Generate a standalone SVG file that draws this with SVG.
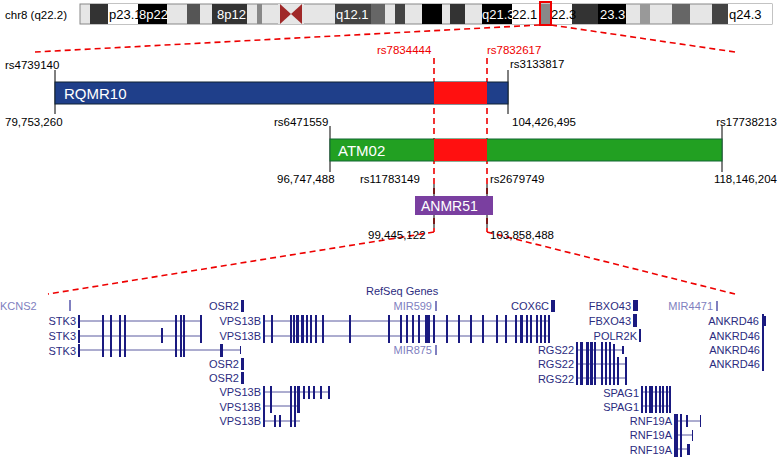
<svg xmlns="http://www.w3.org/2000/svg" width="778" height="457" viewBox="0 0 778 457">
<style>
text{font-family:"Liberation Sans",Arial,sans-serif}
.t{font-size:11.5px;fill:#000}
.r{font-size:11.5px;fill:#e00}
.g{font-size:11px;fill:#2b2b80}
.gl{font-size:11px;fill:#8080c0}
.bl{fill:#fff}
.cb{font-size:13px}
.dash{stroke:#e00;stroke-width:1.6;stroke-dasharray:6,4;fill:none}
.tk{stroke:#000;stroke-width:1}
.in{stroke:#5a5aa0;stroke-width:1}
.ex{fill:#1a1a80}
</style>
<g id="chrom">
<text class="t" x="5" y="19" font-size="12">chr8 (q22.2)</text>
<rect x="80" y="4" width="692" height="20" fill="#e6e6e6" stroke="#888"/>
<rect x="90" y="4" width="18" height="20" fill="#333"/>
<rect x="108" y="4" width="30" height="20" fill="#fff"/>
<rect x="138" y="4" width="29" height="20" fill="#000"/>
<rect x="187" y="4" width="13" height="20" fill="#555"/>
<rect x="212" y="4" width="35" height="20" fill="#333"/>
<rect x="257" y="4" width="5" height="20" fill="#888"/>
<rect x="278" y="4" width="26" height="20" fill="#e6e6e6"/>
<polygon points="280,4 291,14 280,24" fill="#a02828"/>
<polygon points="302,4 291,14 302,24" fill="#a02828"/>
<rect x="335" y="4" width="36" height="20" fill="#444"/>
<rect x="371" y="4" width="14" height="20" fill="#666"/>
<rect x="395" y="4" width="10" height="20" fill="#444"/>
<rect x="422" y="4" width="20" height="20" fill="#000"/>
<rect x="450" y="4" width="15" height="20" fill="#333"/>
<rect x="482" y="4" width="30" height="20" fill="#000"/>
<rect x="512" y="4" width="28" height="20" fill="#fff"/>
<rect x="540" y="4" width="10" height="20" fill="#888"/>
<rect x="550" y="4" width="22" height="20" fill="#fff"/>
<rect x="572" y="4" width="26" height="20" fill="#333"/>
<rect x="598" y="4" width="28" height="20" fill="#000"/>
<rect x="640" y="4" width="10" height="20" fill="#999"/>
<rect x="672" y="4" width="18" height="20" fill="#666"/>
<rect x="712" y="4" width="16" height="20" fill="#444"/>
<rect x="728" y="4" width="44" height="20" fill="#fff"/>
<text class="cb" x="109" y="19" fill="#000">p23.1</text>
<text class="cb" x="139" y="19" fill="#fff">8p22</text>
<text class="cb" x="217" y="19" fill="#fff">8p12</text>
<text class="cb" x="336" y="19" fill="#fff">q12.1</text>
<text class="cb" x="482" y="19" fill="#fff">q21.3</text>
<text class="cb" x="512" y="19" fill="#000">22.1</text>
<text class="cb" x="551" y="19" fill="#000">22.3</text>
<text class="cb" x="600" y="19" fill="#fff">23.3</text>
<text class="cb" x="729" y="19" fill="#000">q24.3</text>
<rect x="540" y="2" width="11" height="23" fill="none" stroke="#e00" stroke-width="2"/>
</g>
<g id="connectors">
<line class="dash" x1="540" y1="25" x2="35" y2="52"/>
<line class="dash" x1="551" y1="25" x2="735" y2="52"/>
<line class="dash" x1="434" y1="58" x2="434" y2="232"/>
<line class="dash" x1="487" y1="58" x2="487" y2="232"/>
<line class="dash" x1="434" y1="232" x2="48" y2="294"/>
<line class="dash" x1="487" y1="232" x2="735" y2="294"/>
</g>
<g id="RQMR10">
<line class="tk" x1="55" y1="70" x2="55" y2="114"/>
<line class="tk" x1="508" y1="70" x2="508" y2="114"/>
<rect x="55" y="82" width="453" height="22" fill="#1f3f8a" stroke="#123"/>
<rect x="434" y="82" width="53" height="22" fill="#ff1010"/>
<text class="bl" x="64" y="99" font-size="15">RQMR10</text>
<text class="t" x="5" y="69">rs4739140</text>
<text class="t" x="5" y="126">79,753,260</text>
<text class="t" x="510" y="68">rs3133817</text>
<text class="t" x="512" y="126">104,426,495</text>
<text class="r" x="377" y="54">rs7834444</text>
<text class="r" x="487" y="54">rs7832617</text>
</g>
<g id="ATM02">
<line class="tk" x1="330" y1="126" x2="330" y2="172"/>
<line class="tk" x1="722" y1="126" x2="722" y2="172"/>
<rect x="330" y="139" width="392" height="22" fill="#22a022" stroke="#163"/>
<rect x="434" y="139" width="53" height="22" fill="#ff1010"/>
<text class="bl" x="338" y="156" font-size="15">ATM02</text>
<text class="t" x="274" y="126">rs6471559</text>
<text class="t" x="277" y="183">96,747,488</text>
<text class="t" x="777" y="126" text-anchor="end" font-size="10.5">rs17738213</text>
<text class="t" x="777" y="183" text-anchor="end" font-size="10.5">118,146,204</text>
</g>
<g id="ANMR51">
<line class="tk" x1="434" y1="184" x2="434" y2="228"/>
<line class="tk" x1="487" y1="184" x2="487" y2="228"/>
<rect x="415" y="196" width="78" height="19" fill="#7a3fa0"/>
<text class="bl" x="421" y="211" font-size="14">ANMR51</text>
<text class="t" x="360" y="183">rs11783149</text>
<text class="t" x="490" y="183">rs2679749</text>
<text class="t" x="368" y="239">99,445,122</text>
<text class="t" x="490" y="239">103,858,488</text>
</g>
<g id="genes">
<text class="g" x="366" y="295">RefSeq Genes</text>
<text class="gl" x="0" y="310">KCNS2</text><rect x="69" y="300" width="2" height="11" fill="#8080c0"/>
<text class="g" x="76" y="325" text-anchor="end">STK3</text><text class="g" x="76" y="340" text-anchor="end">STK3</text><text class="g" x="76" y="355" text-anchor="end">STK3</text>
<line class="in" x1="79" y1="321" x2="201" y2="321"/><line class="in" x1="79" y1="336" x2="201" y2="336"/><line class="in" x1="79" y1="350" x2="240" y2="350"/>
<g class="ex">
<rect x="78" y="315" width="2" height="13"/><rect x="78" y="330" width="2" height="13"/><rect x="78" y="344" width="2" height="13"/>
<rect x="102" y="315" width="2" height="42"/><rect x="110" y="315" width="2" height="42"/><rect x="119" y="315" width="2" height="42"/><rect x="124" y="315" width="2" height="42"/>
<rect x="175" y="315" width="2" height="42"/><rect x="180" y="315" width="2" height="42"/><rect x="183" y="315" width="2" height="42"/><rect x="161" y="328" width="2" height="15"/>
<rect x="200" y="315" width="2" height="28"/><rect x="220" y="344" width="3" height="13"/><rect x="240" y="346" width="1" height="8"/>
</g>
<text class="g" x="239" y="310" text-anchor="end">OSR2</text><rect x="241" y="300" width="3" height="12" class="ex"/>
<text class="g" x="239" y="368" text-anchor="end">OSR2</text><rect x="241" y="358" width="3" height="12" class="ex"/>
<text class="g" x="239" y="382" text-anchor="end">OSR2</text><rect x="241" y="372" width="3" height="12" class="ex"/>
<text class="g" x="261" y="325" text-anchor="end">VPS13B</text><text class="g" x="261" y="340" text-anchor="end">VPS13B</text>
<line class="in" x1="264" y1="321" x2="550" y2="321"/><line class="in" x1="264" y1="336" x2="550" y2="336"/>
<g class="ex">
<rect x="263" y="315" width="2" height="28"/><rect x="271" y="315" width="2" height="28"/>
<rect x="290" y="315" width="2" height="28"/><rect x="293" y="315" width="2" height="28"/><rect x="296" y="315" width="3" height="28"/><rect x="301" y="315" width="3" height="28"/><rect x="306" y="315" width="2" height="28"/><rect x="310" y="315" width="2" height="28"/><rect x="315" y="315" width="2" height="28"/>
<rect x="322" y="315" width="2" height="28"/><rect x="349" y="315" width="2" height="28"/><rect x="388" y="315" width="2" height="28"/>
<rect x="400" y="315" width="2" height="28"/><rect x="406" y="315" width="2" height="28"/><rect x="412" y="315" width="2" height="28"/><rect x="418" y="315" width="2" height="28"/><rect x="425" y="315" width="5" height="28"/><rect x="433" y="315" width="2" height="28"/><rect x="446" y="315" width="2" height="28"/><rect x="458" y="315" width="2" height="28"/><rect x="470" y="315" width="2" height="28"/><rect x="482" y="315" width="2" height="28"/><rect x="496" y="315" width="2" height="28"/><rect x="505" y="315" width="2" height="28"/>
<rect x="515" y="315" width="2" height="28"/><rect x="520" y="315" width="3" height="28"/><rect x="526" y="315" width="2" height="28"/><rect x="530" y="315" width="2" height="28"/><rect x="536" y="315" width="2" height="28"/><rect x="540" y="315" width="2" height="28"/><rect x="544" y="315" width="2" height="28"/><rect x="548" y="315" width="2" height="28"/>
</g>
<text class="g" x="261" y="396" text-anchor="end">VPS13B</text><text class="g" x="261" y="411" text-anchor="end">VPS13B</text><text class="g" x="261" y="425" text-anchor="end">VPS13B</text>
<line class="in" x1="264" y1="392" x2="329" y2="392"/><line class="in" x1="264" y1="406" x2="300" y2="406"/><line class="in" x1="264" y1="421" x2="300" y2="421"/>
<g class="ex">
<rect x="263" y="386" width="2" height="41"/><rect x="270" y="386" width="2" height="27"/><rect x="290" y="386" width="2" height="41"/><rect x="294" y="386" width="2" height="41"/><rect x="297" y="386" width="3" height="27"/>
<rect x="303" y="386" width="2" height="13"/><rect x="308" y="386" width="2" height="13"/><rect x="313" y="386" width="2" height="13"/><rect x="320" y="386" width="2" height="13"/><rect x="328" y="386" width="2" height="13"/>
<rect x="274" y="415" width="2" height="12"/><rect x="279" y="415" width="2" height="12"/>
</g>
<text class="gl" x="432" y="310" text-anchor="end">MIR599</text><rect x="435" y="301" width="2" height="10" fill="#8080c0"/>
<text class="gl" x="432" y="354" text-anchor="end">MIR875</text><rect x="435" y="345" width="2" height="10" fill="#8080c0"/>
<text class="g" x="549" y="310" text-anchor="end">COX6C</text><rect x="551" y="300" width="4" height="12" class="ex"/>
<text class="g" x="631" y="310" text-anchor="end">FBXO43</text><rect x="633" y="300" width="5" height="11" class="ex"/>
<text class="g" x="631" y="325" text-anchor="end">FBXO43</text><rect x="633" y="314" width="4" height="13" class="ex"/>
<text class="g" x="637" y="340" text-anchor="end">POLR2K</text><rect x="639" y="329" width="2" height="13" class="ex"/>
<text class="g" x="574" y="354" text-anchor="end">RGS22</text><text class="g" x="574" y="368" text-anchor="end">RGS22</text><text class="g" x="574" y="383" text-anchor="end">RGS22</text>
<line class="in" x1="577" y1="350" x2="624" y2="350"/><line class="in" x1="577" y1="364" x2="625" y2="364"/><line class="in" x1="577" y1="378" x2="625" y2="378"/>
<g class="ex">
<rect x="576" y="342" width="2" height="43"/><rect x="580" y="342" width="3" height="43"/><rect x="586" y="342" width="3" height="43"/><rect x="590" y="342" width="3" height="43"/><rect x="594" y="342" width="2" height="43"/><rect x="601" y="342" width="2" height="43"/><rect x="605" y="342" width="2" height="43"/><rect x="609" y="342" width="2" height="43"/><rect x="613" y="344" width="2" height="41"/><rect x="617" y="357" width="2" height="28"/><rect x="622" y="346" width="2" height="8"/><rect x="625" y="357" width="2" height="28"/>
</g>
<text class="g" x="639" y="397" text-anchor="end">SPAG1</text><text class="g" x="639" y="411" text-anchor="end">SPAG1</text>
<line class="in" x1="642" y1="392" x2="669" y2="392"/><line class="in" x1="642" y1="406" x2="669" y2="406"/>
<g class="ex"><rect x="641" y="386" width="2" height="27"/><rect x="645" y="386" width="2" height="27"/><rect x="649" y="386" width="4" height="27"/><rect x="655" y="386" width="2" height="27"/><rect x="659" y="386" width="2" height="27"/><rect x="662" y="386" width="2" height="27"/><rect x="666" y="386" width="2" height="27"/><rect x="669" y="386" width="2" height="27"/></g>
<text class="g" x="672" y="425" text-anchor="end">RNF19A</text><text class="g" x="672" y="439" text-anchor="end">RNF19A</text><text class="g" x="672" y="454" text-anchor="end">RNF19A</text>
<line class="in" x1="675" y1="421" x2="700" y2="421"/><line class="in" x1="675" y1="435" x2="692" y2="435"/><line class="in" x1="675" y1="449" x2="689" y2="449"/>
<g class="ex"><rect x="674" y="414" width="4" height="43"/><rect x="680" y="414" width="2" height="43"/><rect x="686" y="415" width="2" height="12"/><rect x="700" y="415" width="1" height="12"/><rect x="692" y="430" width="1" height="11"/><rect x="687" y="444" width="3" height="11"/></g>
<text class="gl" x="713" y="310" text-anchor="end">MIR4471</text><rect x="716" y="301" width="2" height="10" fill="#8080c0"/>
<text class="g" x="759" y="325" text-anchor="end">ANKRD46</text><text class="g" x="760" y="340" text-anchor="end">ANKRD46</text><text class="g" x="760" y="354" text-anchor="end">ANKRD46</text><text class="g" x="760" y="368" text-anchor="end">ANKRD46</text>
<rect x="762" y="314" width="2" height="57" class="ex"/><rect x="764" y="316" width="2" height="10" class="ex"/>
</g>
</svg>
